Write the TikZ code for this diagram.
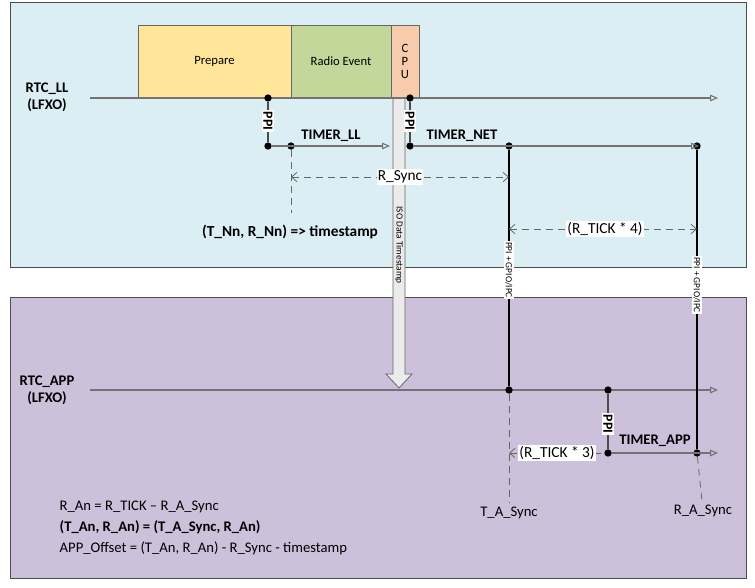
\documentclass[tikz,border=0pt]{standalone}
\usepackage{fontspec}
\setmainfont{Carlito}
\usetikzlibrary{arrows.meta}
\definecolor{topbg}{HTML}{DAEEF3}
\definecolor{botbg}{HTML}{CCC0DA}
\definecolor{prep}{HTML}{FFE699}
\definecolor{radio}{HTML}{C4D79B}
\definecolor{cpu}{HTML}{F8CBAD}
\begin{document}
\begin{tikzpicture}[x=0.75pt,y=-0.75pt,
  panel/.style={draw=black!70,line width=0.6pt},
  box/.style={draw=black!60,line width=0.6pt,align=center},
  tl/.style={draw=black!55,line width=0.8pt,-{Triangle[open,length=6pt,width=5pt]}},
  sig/.style={draw=black,line width=0.8pt},
  dot/.style={circle,fill=black,inner sep=0pt,minimum size=5.5pt},
  dsh/.style={draw=black!60,dashed,dash pattern=on 5pt off 4pt,line width=0.6pt},
  dar/.style={dsh,{Straight Barb[length=4pt,width=7pt]}-{Straight Barb[length=4pt,width=7pt]}},
  lab/.style={font=\fontsize{11}{13}\selectfont},
  blab/.style={font=\bfseries\fontsize{11}{13}\selectfont},
  wl/.style={fill=white,inner sep=1pt,font=\fontsize{11.5}{13}\selectfont},
  rl/.style={fill=white,inner sep=1pt,rotate=-90,font=\fontsize{7}{8}\selectfont},
  ppil/.style={fill=white,inner sep=1pt,rotate=-90,font=\bfseries\fontsize{10.5}{12}\selectfont}]
\useasboundingbox (0,0) rectangle (755,587);
\fill[white] (0,0) rectangle (755,587);
\path[panel,fill=topbg] (10,2) rectangle (746,267);
\path[panel,fill=botbg] (10,297) rectangle (746,578);
\node[box,fill=prep,minimum width=153*0.75pt,minimum height=73*0.75pt,font=\fontsize{9.5}{11}\selectfont] (prep) at (214.5,61.5) {Prepare};
\node[box,fill=radio,minimum width=100*0.75pt,minimum height=73*0.75pt,font=\fontsize{9.5}{11}\selectfont] (radio) at (341,61.5) {Radio Event};
\node[box,fill=cpu,minimum width=28*0.75pt,minimum height=73*0.75pt,font=\fontsize{9.5}{11}\selectfont] (cpu) at (405,61.5) {C\\[-1pt]P\\[-1pt]U};
% ISO bar
\draw[draw=black!60,fill=black!8,line width=0.6pt] (393,98) -- (405,98) -- (405,374) -- (412,374) -- (399,388) -- (386,374) -- (393,374) -- cycle;
\node[rl,fill=none] (isot) at (399,245) {ISO Data Timestamp};
% RTC_LL
\coordinate (ll0) at (90,98); \coordinate (ll1) at (718,98);
\draw[tl] (ll0) -- (ll1);
\node[blab,align=center] (rtcll) at (47,97) {RTC\_LL\\(LFXO)};
\node[dot] (a1) at (268,98) {};
\node[dot] (a2) at (268,146) {};
\node[dot] (a3) at (291,146) {};
\coordinate (tll) at (390,146);
\draw[sig,black!70] (a1) -- (a2);
\node[ppil] (ppi1) at (268,121) {PPI};
\draw[tl] (a2) -- (tll);
\node[blab] (tllt) at (331,136) {TIMER\_LL};
\coordinate (a3d) at (291,213);
\draw[dsh] (a3) -- (a3d);
\node[dot] (c1) at (410,98) {};
\node[dot] (c2) at (410,146) {};
\draw[sig,black!70] (c1) -- (c2);
\node[ppil] (ppi2) at (410,121) {PPI};
\node[dot] (n1) at (509,146) {};
\node[dot] (n2) at (697,146) {};
\coordinate (tnet) at (699,146);
\draw[tl] (c2) -- (tnet);
\node[blab] (tnt) at (462,136) {TIMER\_NET};
\node[font=\bfseries\fontsize{11.5}{13}\selectfont] (ts) at (290,232) {(T\_Nn, R\_Nn) => timestamp};
% RTC_APP
\coordinate (ap0) at (90,390); \coordinate (ap1) at (718,390);
\draw[tl] (ap0) -- (ap1);
\node[blab,align=center] (rtcapp) at (47,390) {RTC\_APP\\(LFXO)};
\node[dot] (t1) at (509,390) {};
\node[dot] (p1) at (608,390) {};
\node[dot] (p2) at (608,453) {};
\node[dot] (r1) at (697,453) {};
\coordinate (tapp) at (718,453);
\draw[sig] (n1) -- (t1);
\draw[sig] (n2) -- (r1);
\node[rl] (g1) at (509,270) {PPI + GPIO/IPC};
\node[rl] (g2) at (697,285) {PPI + GPIO/IPC};
\draw[sig,black!70] (p1) -- (p2);
\node[ppil] (ppi3) at (608,424) {PPI};
\draw[tl] (p2) -- (tapp);
\node[blab] (tat) at (655,441) {TIMER\_APP};
% dashed measures
\coordinate (rs0) at (291,177); \coordinate (rs1) at (509,177);
\draw[dar] (rs0) -- (rs1);
\node[wl] (rst) at (400,177) {R\_Sync};
\coordinate (r40) at (509,229); \coordinate (r41) at (697,229);
\draw[dar] (r40) -- (r41);
\node[wl] (r4t) at (605,229) {(R\_TICK * 4)};
\coordinate (r30) at (509,453);
\draw[dsh,{Straight Barb[length=4pt,width=7pt]}-] (r30) -- (p2);
\node[wl] (r3t) at (557,453) {(R\_TICK * 3)};
\node[lab] (tas) at (509,513) {T\_A\_Sync};
\node[lab] (ras) at (703,511) {R\_A\_Sync};
\draw[dsh] (t1) -- (tas);
\draw[dsh] (r1) -- (ras);
\node[anchor=west,align=left,font=\fontsize{11}{15.5}\selectfont] (eq) at (55,528) {R\_An = R\_TICK – R\_A\_Sync\\\textbf{(T\_An, R\_An) = (T\_A\_Sync, R\_An)}\\APP\_Offset = (T\_An, R\_An) - R\_Sync - timestamp};
\end{tikzpicture}
\end{document}
